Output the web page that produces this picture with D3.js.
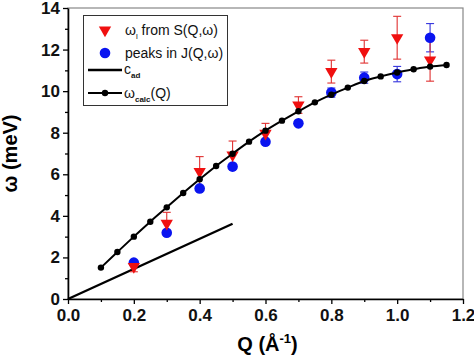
<!DOCTYPE html>
<html><head><meta charset="utf-8">
<script src="https://cdn.jsdelivr.net/npm/d3@7"></script>
<style>body{margin:0;background:#fff}svg{display:block;font-family:"Liberation Sans",Arial,sans-serif}</style>
</head><body>
<script>
const qCalc = [0.1,0.15,0.2,0.25,0.3,0.35,0.4,0.45,0.5,0.55,0.6,0.65,0.7,0.75,0.8,0.85,0.9,0.95,1.0,1.05,1.1,1.15];
const wCalc = [1.51,2.26,3.0,3.72,4.41,5.10,5.76,6.40,6.99,7.57,8.10,8.58,9.03,9.46,9.83,10.17,10.49,10.71,10.90,11.05,11.18,11.26];
const qCad = [0, 0.5];
const wCad = [0, 3.62];
const qData = [0.2,0.3,0.4,0.5,0.6,0.7,0.8,0.9,1.0,1.1];
const wS = [1.56,3.64,6.13,6.93,7.97,9.33,10.94,11.9,12.57,11.5];
const wSErr = [0.25,0.53,0.72,0.67,0.48,0.40,0.55,0.55,1.03,1.02];
const wJ = [1.75,3.19,5.32,6.37,7.57,8.45,9.93,10.65,10.82,12.57];
const wJErr = [0.1,0.1,0.1,0.1,0.1,0.1,0.22,0.27,0.37,0.68];
const xTicks = [0,0.2,0.4,0.6,0.8,1.0,1.2];
const yTicks = [0,2,4,6,8,10,12,14];

const W=474,H=355;
const m={l:68,r:11,t:8,b:56};
const svg=d3.select("body").append("svg").attr("width",W).attr("height",H);
const x=d3.scaleLinear().domain([0,1.2]).range([m.l,W-m.r]);
const y=d3.scaleLinear().domain([0,14]).range([H-m.b,m.t]);

svg.append("rect").attr("x",x(0)).attr("y",y(14)).attr("width",x(1.2)-x(0)).attr("height",y(0)-y(14))
  .attr("fill","none").attr("stroke","#888").attr("stroke-width",1.2);

const xAx=svg.append("g").attr("transform",`translate(0,${y(0)})`)
  .call(d3.axisBottom(x).tickValues(xTicks).tickFormat(d3.format(".1f")).tickSizeInner(5).tickSizeOuter(0).tickPadding(5));
xAx.append("g").call(d3.axisBottom(x).tickValues(d3.range(0.1,1.2,0.2)).tickFormat("").tickSizeInner(3).tickSizeOuter(0)).select(".domain").remove();
const yAx=svg.append("g").attr("transform",`translate(${x(0)},0)`)
  .call(d3.axisLeft(y).tickValues(yTicks).tickFormat(d3.format("d")).tickSizeInner(5).tickSizeOuter(0).tickPadding(3));
yAx.append("g").call(d3.axisLeft(y).tickValues(d3.range(1,14,2)).tickFormat("").tickSizeInner(3).tickSizeOuter(0)).select(".domain").remove();
svg.selectAll(".domain").attr("stroke","#000").attr("stroke-width",1.6);
svg.selectAll(".tick line").attr("stroke","#000").attr("stroke-width",1.3);
svg.selectAll(".tick text").attr("font-size",17).attr("font-weight","bold").attr("fill","#111");

const xt=svg.append("text").attr("x",(x(0)+x(1.2))/2+2).attr("y",H-4).attr("text-anchor","middle")
  .attr("font-size",20).attr("font-weight","bold");
xt.append("tspan").text("Q (Å");
xt.append("tspan").attr("dy",-8).attr("font-size",13).text("-1");
xt.append("tspan").attr("dy",8).text(")");
svg.append("text").attr("transform",`translate(17,${(y(0)+y(14))/2}) rotate(-90)`).attr("text-anchor","middle")
  .attr("font-size",20).attr("font-weight","bold").text("ω (meV)");

svg.append("path").datum(qCad.map((q,i)=>[q,wCad[i]]))
  .attr("d",d3.line().x(d=>x(d[0])).y(d=>y(d[1]))).attr("fill","none").attr("stroke","#000").attr("stroke-width",2.4);

function errBars(vals,errs,color){
  const g=svg.append("g").attr("stroke",color).attr("stroke-width",1.1);
  qData.forEach((q,i)=>{
    const cx=x(q),y1=y(vals[i]+errs[i]),y2=y(vals[i]-errs[i]);
    g.append("line").attr("x1",cx).attr("x2",cx).attr("y1",y1).attr("y2",y2);
    g.append("line").attr("x1",cx-4).attr("x2",cx+4).attr("y1",y1).attr("y2",y1);
    g.append("line").attr("x1",cx-4).attr("x2",cx+4).attr("y1",y2).attr("y2",y2);
  });
}
errBars(wJ,wJErr,"#3333dd");
errBars(wS,wSErr,"#e03030");

svg.append("g").selectAll("circle").data(qData).join("circle")
  .attr("cx",d=>x(d)).attr("cy",(d,i)=>y(wJ[i])).attr("r",5.3).attr("fill","#0a14f0");

const tri=d3.symbol().type(d3.symbolTriangle).size(66);
svg.append("g").selectAll("path").data(qData).join("path")
  .attr("d",tri).attr("transform",(d,i)=>`translate(${x(d)},${y(wS[i])}) rotate(180)`).attr("fill","#f01010");

svg.append("path").datum(qCalc.map((q,i)=>[q,wCalc[i]]))
  .attr("d",d3.line().curve(d3.curveMonotoneX).x(d=>x(d[0])).y(d=>y(d[1]))).attr("fill","none").attr("stroke","#000").attr("stroke-width",2);
svg.append("g").selectAll("circle").data(qCalc).join("circle")
  .attr("cx",d=>x(d)).attr("cy",(d,i)=>y(wCalc[i])).attr("r",3.2).attr("fill","#000");

const lg=svg.append("g");
lg.append("rect").attr("x",83.5).attr("y",15.5).attr("width",144).attr("height",90).attr("fill","#fff").attr("stroke","#333").attr("stroke-width",1);
const lx=105, tx=125;
lg.append("path").attr("d",tri).attr("transform",`translate(${lx},30) rotate(180)`).attr("fill","#f01010");
lg.append("circle").attr("cx",lx).attr("cy",53).attr("r",5.3).attr("fill","#0a14f0");
lg.append("line").attr("x1",88).attr("x2",122).attr("y1",70).attr("y2",70).attr("stroke","#000").attr("stroke-width",2.4);
lg.append("line").attr("x1",88).attr("x2",122).attr("y1",93).attr("y2",93).attr("stroke","#000").attr("stroke-width",2);
lg.append("circle").attr("cx",lx).attr("cy",93).attr("r",3.2).attr("fill","#000");
function ltext(yy){return lg.append("text").attr("x",tx).attr("y",yy).attr("font-size",14).attr("fill","#111");}
let t=ltext(35); t.append("tspan").text("ω"); t.append("tspan").attr("dy",4).attr("font-size",8).text("l"); t.append("tspan").attr("dy",-4).text(" from S(Q,ω)");
ltext(58).text("peaks in J(Q,ω)");
t=ltext(74); t.attr("x",124).append("tspan").text("c"); t.append("tspan").attr("dy",4).attr("font-size",8).attr("font-weight","bold").text("ad");
t=ltext(98); t.attr("x",124).append("tspan").text("ω"); t.append("tspan").attr("dy",4).attr("font-size",8).attr("font-weight","bold").text("calc"); t.append("tspan").attr("dy",-4).text("(Q)");
</script>
</body></html>
